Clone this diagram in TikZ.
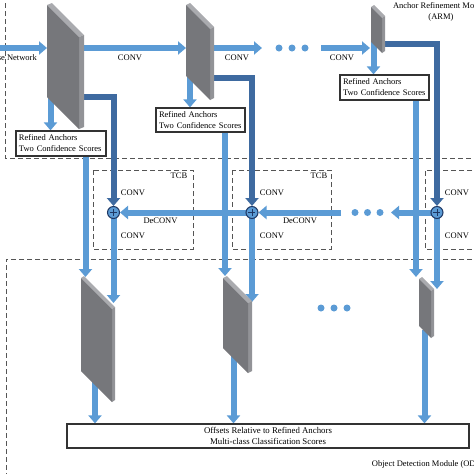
\documentclass[tikz,border=0pt]{standalone}
\usepackage{fontspec}
\setmainfont{Liberation Serif}
\usetikzlibrary{arrows.meta}
\definecolor{lb}{RGB}{91,155,213}
\definecolor{db}{RGB}{62,106,160}
\definecolor{slabF}{RGB}{118,119,123}
\definecolor{slabS}{RGB}{146,147,151}
\definecolor{slabT}{RGB}{170,171,175}
\definecolor{dashc}{RGB}{85,85,85}
\definecolor{navy}{RGB}{31,56,100}
\pgfdeclarelayer{bg}
\pgfsetlayers{bg,main}
\tikzset{
 lbarrow/.style={draw=lb, line width=6pt, -{Triangle[width=13pt,length=8pt]}},
 dbarrow/.style={draw=db, line width=6pt, -{Triangle[width=13pt,length=8pt]}},
 modbox/.style={draw=dashc, dash pattern=on 5pt off 3pt, line width=1pt},
 txt/.style={font=\fontsize{8.5}{11}\selectfont, inner sep=0pt},
 outbox/.style={draw=black!80, line width=1.2pt, fill=white, inner sep=2pt, align=left, font=\fontsize{8.5}{11}\selectfont},
 plusnode/.style={circle, draw=navy, fill=lb, line width=1pt, minimum size=12pt, inner sep=0pt},
 dotnode/.style={circle, fill=lb, minimum size=7pt, inner sep=0pt},
}
% #1 left x, #2 top y, #3 face width, #4 face height, #5 depth
\newcommand\drawslab[5]{%
  \fill[slabT] (#1,#2) -- ++(#5,-2) -- ++(#3,#3) -- ++(-#5,2) -- cycle;
  \fill[slabS] ({#1+#3},{#2+#3}) -- ++(#5,-2) -- ++(0,#4) -- ++(-#5,2) -- cycle;
  \fill[slabF] (#1,#2) -- ++(#3,#3) -- ++(0,#4) -- ++(-#3,-#3) -- cycle;
}
\begin{document}
\begin{tikzpicture}[x=1pt,y=-1pt]
\useasboundingbox (0,0) rectangle (474,474);
% slabs
\drawslab{47}{5}{32}{92}{5}
\drawslab{186}{5}{24}{71}{4}
\drawslab{371}{7}{11}{35}{3}
\drawslab{81}{278}{31}{93}{3}
\drawslab{223}{278}{25}{70}{4}
\drawslab{419}{279}{12}{47}{3}
% output boxes
\node[outbox, minimum width=90pt, minimum height=25pt, text width=84pt] (b1) at (61,143.5) {Refined Anchors\\Two Confidence Scores};
\node[outbox, minimum width=89pt, minimum height=24pt, text width=83pt] (b2) at (200.5,120) {Refined Anchors\\Two Confidence Scores};
\node[outbox, minimum width=89pt, minimum height=25pt, text width=83pt] (b3) at (384.5,87.5) {Refined Anchors\\Two Confidence Scores};
\node[outbox, minimum width=402pt, minimum height=24pt, align=center, font=\fontsize{8.8}{10.5}\selectfont] (ob) at (268,436) {Offsets Relative to Refined Anchors\\Multi-class Classification Scores};
% plus nodes
\foreach \n/\x in {p1/113.5,p2/252,p3/437}{
  \node[plusnode] (\n) at (\x,212.5) {};
  \draw[navy, line width=1pt] (\n.north) ++(0,2.5) -- ++(0,7) (\n.west) ++(2.5,0) -- ++(7,0);
}
% dots
\foreach \x [count=\i] in {279,292,305}{\node[dotnode] (tdot\i) at (\x,48) {};}
\foreach \x [count=\i] in {355,367.5,380}{\node[dotnode] (mdot\i) at (\x,212.5) {};}
\foreach \x [count=\i] in {321,334,347}{\node[dotnode] (bdot\i) at (\x,308) {};}
% texts
\node[txt, anchor=east] (base) at (37,58) {Base Network};
\node[txt] (c1) at (130,58) {CONV};
\node[txt] (c2) at (237,58) {CONV};
\node[txt] (c3) at (342,58) {CONV};
\node[txt, align=center, font=\fontsize{8.5}{11}\selectfont] (arm) at (441,12) {Anchor Refinement Module\\(ARM)};
\node[txt] (odm) at (429,464) {Object Detection Module (ODM)};
\node[txt] (t1) at (179,176) {TCB};
\node[txt] (t2) at (319,176) {TCB};
\node[txt] (t1a) at (133,193) {CONV};
\node[txt] (t1b) at (133,236) {CONV};
\node[txt] (t2a) at (272,193) {CONV};
\node[txt] (t2b) at (272,236) {CONV};
\node[txt] (t3a) at (457,193) {CONV};
\node[txt] (t3b) at (457,236) {CONV};
\node[txt] (dc1) at (160.5,221) {DeCONV};
\node[txt] (dc2) at (300,221) {DeCONV};
% coordinates
\coordinate (in0) at (-5,48);
\coordinate (s1w) at (47,48);
\coordinate (s1e) at (82,48);
\coordinate (s2w) at (186,48);
\coordinate (s2e) at (212,48);
\coordinate (a3) at (262,48);
\coordinate (a4) at (321,48);
\coordinate (s3w) at (370,48);
\coordinate (s1b) at (50.5,88);
\coordinate (s2b) at (190,68);
\coordinate (s3b) at (373.5,38);
\coordinate (s1r) at (78,96.5);
\coordinate (s2r) at (209,77.5);
\coordinate (s3r) at (381,44);
\coordinate (b1o) at (85.5,150);
\coordinate (b2o) at (225,126);
\coordinate (b3o) at (416,94);
\coordinate (s4a) at (85.5,277);
\coordinate (s5a) at (225,276);
\coordinate (s6a) at (416,277);
\coordinate (s4b) at (113.5,303);
\coordinate (s5b) at (252,302);
\coordinate (s6b) at (437,289);
\coordinate (m1) at (341,212.5);
\coordinate (m2) at (391,212.5);
\coordinate (s4o) at (95,378);
\coordinate (s5o) at (233.5,352);
\coordinate (s6o) at (424.5,330);
\begin{pgfonlayer}{bg}
% module boxes
\draw[modbox] (5,-5) -- (5,158) -- (480,158);
\draw[modbox] (480,259) -- (6,259) -- (6,480);
\draw[modbox] (93,170) rectangle (193,249);
\draw[modbox] (232,170) rectangle (331,249);
\draw[modbox] (480,170) -- (425,170) -- (425,249) -- (480,249);
% top row
\draw[lbarrow] (in0) -- (s1w);
\draw[lbarrow] (s1e) -- (s2w);
\draw[lbarrow] (s2e) -- (a3);
\draw[lbarrow] (a4) -- (s3w);
\draw[lbarrow] (s1b) -- (s1b |- b1.north);
\draw[lbarrow] (s2b) -- (s2b |- b2.north);
\draw[lbarrow] (s3b) -- (s3b |- b3.north);
% dark lines to TCB
\draw[dbarrow] (s1r) -| (p1.north);
\draw[dbarrow] (s2r) -| (p2.north);
\draw[dbarrow] (s3r) -| (p3.north);
% boxes down to ODM
\draw[lbarrow] (b1o) -- (s4a);
\draw[lbarrow] (b2o) -- (s5a);
\draw[lbarrow] (b3o) -- (s6a);
% TCB outputs
\draw[lbarrow] (p1.center) -- (s4b);
\draw[lbarrow] (p2.center) -- (s5b);
\draw[lbarrow] (p3.center) -- (s6b);
% deconv path
\draw[lbarrow] (p2.center) -- (p1.east);
\draw[lbarrow] (m1) -- (p2.east);
\draw[lbarrow] (p3.center) -- (m2);
% ODM outputs
\draw[lbarrow] (s4o) -- (s4o |- ob.north);
\draw[lbarrow] (s5o) -- (s5o |- ob.north);
\draw[lbarrow] (s6o) -- (s6o |- ob.north);
\end{pgfonlayer}
\end{tikzpicture}
\end{document}
